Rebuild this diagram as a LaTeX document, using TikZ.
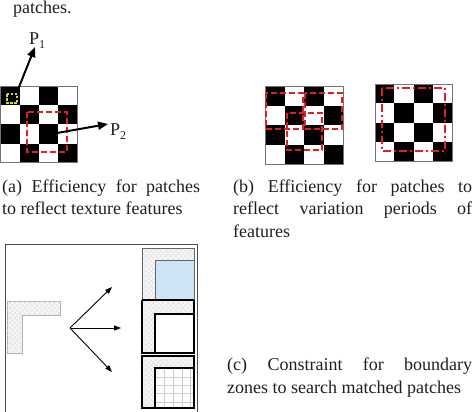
\documentclass[tikz,border=0pt]{standalone}
\usepackage{fontspec}
\setmainfont{Liberation Serif}
\usetikzlibrary{arrows.meta,patterns.meta}
\definecolor{lblue}{RGB}{205,228,246}
\definecolor{redline}{RGB}{225,30,35}
\definecolor{yline}{RGB}{228,218,40}
\newcommand\chkboard[3]{%
  \foreach \i in {0,...,3}{\foreach \j in {0,...,3}{%
    \pgfmathtruncatemacro\cpar{mod(\i+\j,2)}%
    \ifnum\cpar=0 \fill[black] ({#1+\i*#3},{#2+\j*#3}) rectangle ++(#3,#3);\fi}}%
  \draw[board] (#1,#2) rectangle ++({4*#3},{4*#3});}
\begin{document}
\begin{tikzpicture}[x=1pt,y=-1pt,
  txt/.style={inner sep=0pt, anchor=base west, font=\fontsize{18}{22}\selectfont, text=black!88},
  board/.style={draw=black!55, line width=0.9pt},
  reddash/.style={draw=redline, line width=2.2pt, dash pattern=on 6pt off 3pt},
  reddashdot/.style={draw=redline, line width=2.2pt, dash pattern=on 8pt off 3pt on 2pt off 3pt},
  ydash/.style={draw=yline, line width=1.2pt, dash pattern=on 2.5pt off 1.5pt},
  bigarrow/.style={line width=2pt, -{Triangle[length=10pt,width=8pt]}},
  smallarrow/.style={line width=0.9pt, -{Triangle[length=7pt,width=5pt]}},
  hatch/.style={fill=gray!6,
    postaction={pattern={Lines[angle=45,distance=3.5pt,line width=0.3pt]}, pattern color=gray!28},
    postaction={pattern={Lines[angle=-45,distance=3.5pt,line width=0.3pt]}, pattern color=gray!28}},
  gridline/.style={draw=gray!40, line width=0.4pt}
]
\useasboundingbox (0,0) rectangle (474,412);

% top text
\node[txt] (toptext) at (13,13.5) {patches.};

% (a) board
\chkboard{0.4}{86}{19.2}
\draw[ydash] (7,94) rectangle (17,103);
\draw[reddash] (27,112) rectangle (67,152);
\node[txt] (p1) at (29,45) {P\raisebox{-4pt}{\fontsize{12}{12}\selectfont 1}};
\node[txt] (p2) at (110,135) {P\raisebox{-4pt}{\fontsize{12}{12}\selectfont 2}};
\coordinate (p1tail) at (17,92);
\coordinate (p1tip) at (35,47);
\coordinate (p2tail) at (57,133);
\coordinate (p2tip) at (108,124);
\draw[bigarrow] (p1tail) -- (p1tip);
\draw[bigarrow] (p2tail) -- (p2tip);

% (b) boards
\chkboard{265}{86}{19.5}
\draw[reddash] (266,93) rectangle (303,129);
\draw[reddash] (305,93) rectangle (342,129);
\draw[reddash] (287,113) rectangle (322,150);
\chkboard{375}{84}{19.3}
\draw[reddashdot] (382,88) rectangle (445,151);

% captions
\node[txt] (ca1) at (2,192) {\makebox[198pt][s]{(a) Efficiency for patches}};
\node[txt] (ca2) at (2,214) {to reflect texture features};
\node[txt] (cb1) at (233,192) {\makebox[239pt][s]{(b) Efficiency for patches to}};
\node[txt] (cb2) at (233,214) {\makebox[239pt][s]{reflect variation periods of}};
\node[txt] (cb3) at (233,237) {features};
\node[txt] (cc1) at (227,370) {\makebox[245pt][s]{(c) Constraint for boundary}};
\node[txt] (cc2) at (227,393) {zones to search matched patches};

% (c) panel
\draw[black!70, line width=0.9pt] (5,418) -- (5,244) -- (197,244) -- (197,418);
\path[hatch, draw=gray!60, line width=0.8pt] (7,301) -- (60,301) -- (60,315) -- (22,315) -- (22,353) -- (7,353) -- cycle;
\coordinate (orig) at (70,328);
\coordinate (tup) at (112,287);
\coordinate (tmid) at (121,328);
\coordinate (tdown) at (112,372);
\draw[smallarrow] (orig) -- (tup);
\draw[smallarrow] (orig) -- (tmid);
\draw[smallarrow] (orig) -- (tdown);

% box 1
\path[hatch] (142,248) rectangle (194,300);
\filldraw[fill=lblue, draw=black!60, line width=0.6pt] (155,260) rectangle (194,300);
\draw[black!60, line width=0.7pt] (142,300) -- (142,248) -- (194,248) -- (194,300);
% box 2
\path[hatch] (142,300) rectangle (194,353);
\filldraw[fill=white, draw=black, line width=1.2pt] (155,314) rectangle (194,353);
\draw[black, line width=1.2pt] (142,300) -- (142,353) -- (194,353) -- (194,300);
\draw[black, line width=1.8pt] (142,300) -- (194,300);
% box 3
\path[hatch] (142,356) rectangle (194,408);
\fill[white] (155,368) rectangle (194,408);
\foreach \gx in {164,173,182,190} \draw[gridline] (\gx,368) -- (\gx,408);
\foreach \gy in {377,385,393,402} \draw[gridline] (155,\gy) -- (194,\gy);
\draw[black, line width=1.4pt] (155,408) -- (155,368) -- (194,368);
\draw[black, line width=1.4pt] (142,356) rectangle (194,408);
\end{tikzpicture}
\end{document}
